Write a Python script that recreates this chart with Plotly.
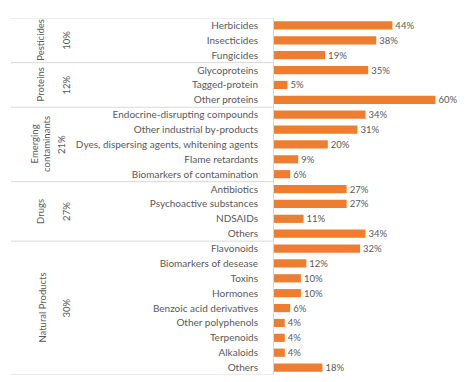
import plotly.graph_objects as go

groups = ["Pesticides", "Proteins", "Emerging<br>contaminants", "Drugs", "Natural Products"]
group_pct = ["10%", "12%", "21%", "27%", "30%"]
group_sizes = [3, 3, 5, 4, 9]

categories = [
    "Herbicides", "Insecticides", "Fungicides",
    "Glycoproteins", "Tagged-protein", "Other proteins",
    "Endocrine-disrupting compounds", "Other industrial by-products",
    "Dyes, dispersing agents, whitening agents", "Flame retardants",
    "Biomarkers of contamination",
    "Antibiotics", "Psychoactive substances", "NDSAIDs", "Others",
    "Flavonoids", "Biomarkers of desease", "Toxins", "Hormones",
    "Benzoic acid derivatives", "Other polyphenols", "Terpenoids",
    "Alkaloids", "Others",
]
values = [44, 38, 19, 35, 5, 60, 34, 31, 20, 9, 6, 27, 27, 11, 34,
          32, 12, 10, 10, 6, 4, 4, 4, 18]

W, H = 474, 382
ml, mr, mt, mb = 266, 10, 10, 15
pw = W - ml - mr
font = "Lato, Open Sans, sans-serif"
gray = "#595959"
line = "#d9d9d9"

def px2paper(px):
    return (px - ml) / pw

pos = list(range(len(categories)))

fig = go.Figure(go.Bar(
    x=values, y=pos, orientation="h",
    marker=dict(color="#ED7D31", line=dict(width=0)),
    text=[f"{v}%" for v in values], textposition="outside",
    constraintext="none",
    textfont=dict(family=font, size=9.5, color=gray),
    cliponaxis=False, width=0.55,
))

shapes = []
annotations = []
start = 0
boundaries = [-0.5]
for g, p, n in zip(groups, group_pct, group_sizes):
    center = start + (n - 1) / 2
    if "<br>" in g:
        gx = 19
    elif g == "Natural Products":
        gx = 27
    else:
        gx = 25
    px_pct = 46 if "<br>" in g else 51
    annotations.append(dict(x=px2paper(gx), y=center, xref="paper", yref="y",
                            text=g, textangle=-90, showarrow=False,
                            font=dict(family=font, size=9.5, color=gray)))
    annotations.append(dict(x=px2paper(px_pct), y=center, xref="paper", yref="y",
                            text=p, textangle=-90, showarrow=False,
                            font=dict(family=font, size=9.5, color=gray)))
    start += n
    boundaries.append(start - 0.5)

for b in boundaries:
    shapes.append(dict(type="line", xref="paper", yref="y",
                       x0=px2paper(3), x1=0, y0=b, y1=b,
                       line=dict(color=line, width=1)))

fig.update_layout(
    width=W, height=H,
    margin=dict(l=ml, r=mr, t=mt, b=mb, autoexpand=False),
    paper_bgcolor="white", plot_bgcolor="white",
    showlegend=False,
    shapes=shapes, annotations=annotations,
    xaxis=dict(range=[0, pw / 2.69], visible=False, automargin=False),
    yaxis=dict(range=[len(categories) - 0.5, -0.5],
               tickvals=pos, ticktext=categories, automargin=False,
               showline=True, linecolor=line, linewidth=1,
               showgrid=False, zeroline=False, ticks="",
               ticklabelstandoff=13,
               tickfont=dict(family=font, size=10, color=gray)),
    font=dict(family=font, size=10, color=gray),
)

fig.write_html("out.html")
